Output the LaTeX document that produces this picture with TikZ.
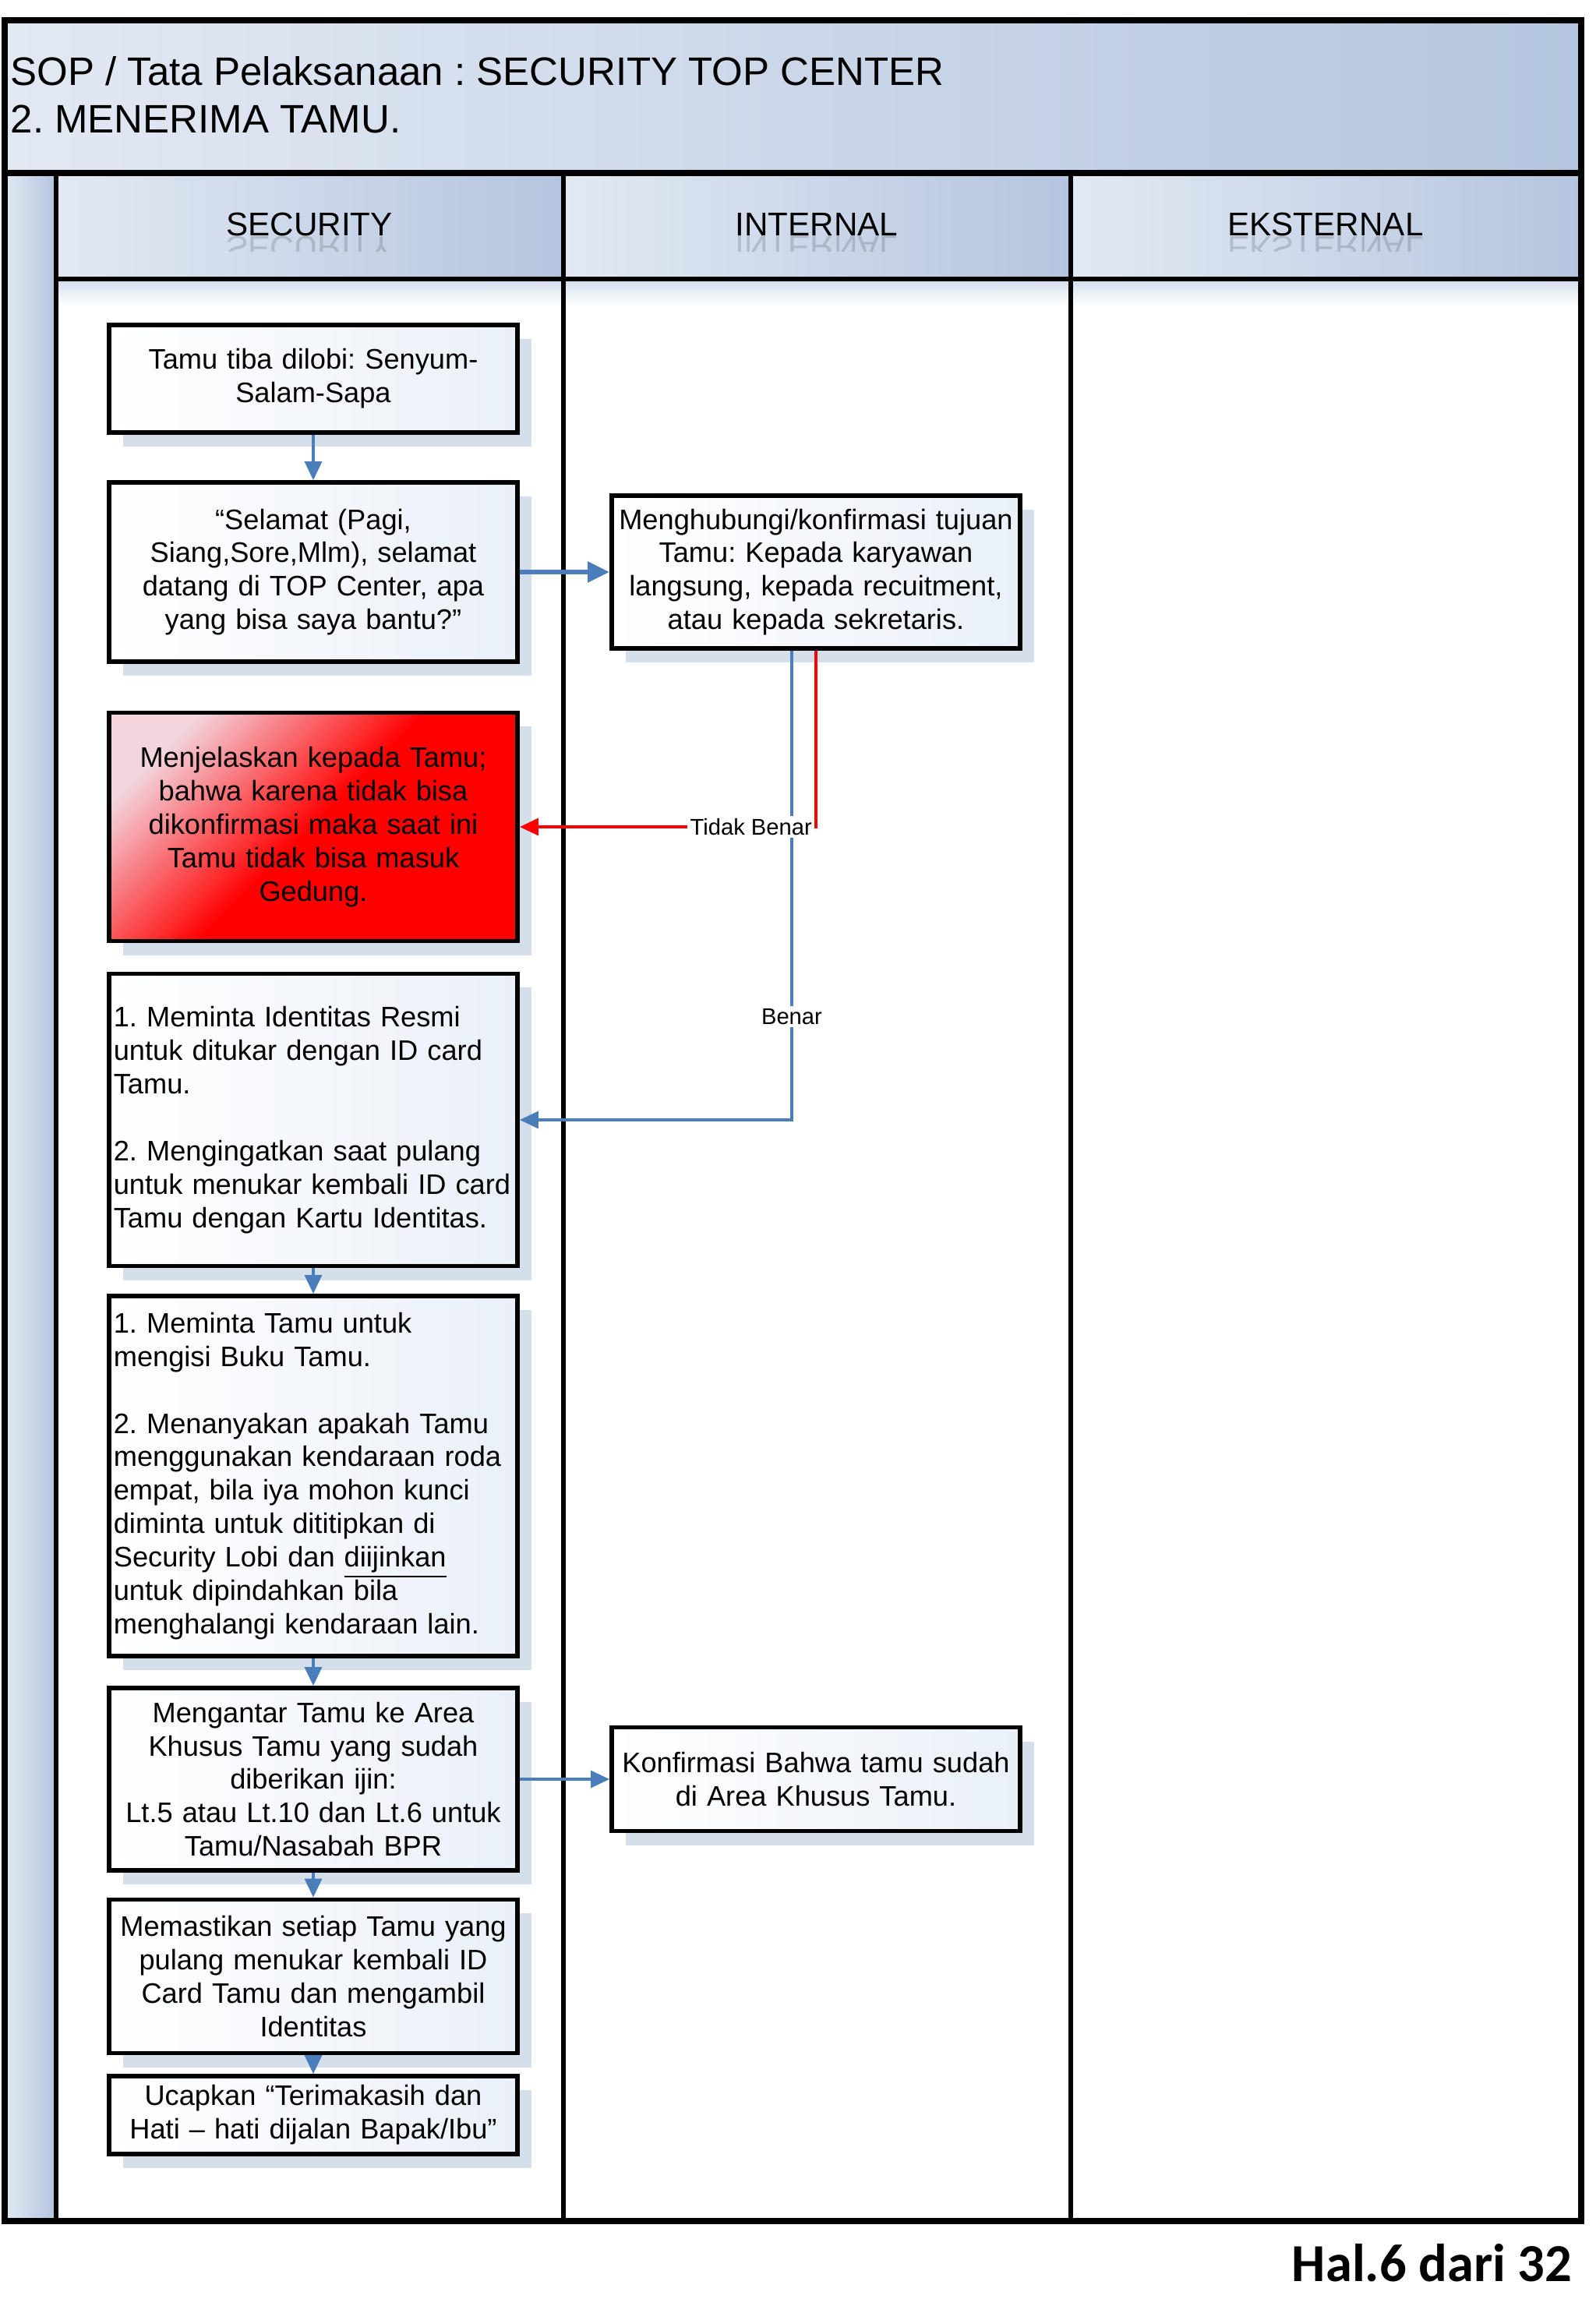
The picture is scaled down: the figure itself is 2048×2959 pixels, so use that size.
\documentclass[tikz,border=0pt]{standalone}
\usepackage{fontspec}
\setmainfont{Liberation Sans}
\newfontfamily\pagefont{Carlito}
\usetikzlibrary{arrows.meta,shadows}
\definecolor{hdrlight}{HTML}{E3E9F3}
\definecolor{hdrdark}{HTML}{B4C5DF}
\definecolor{shadowblue}{HTML}{D5DEEB}
\definecolor{boxblue}{HTML}{EAF0F8}
\definecolor{flowblue}{HTML}{4A7EBB}
\definecolor{redlight}{HTML}{F3D3DC}
\newcommand\flowfont{\fontsize{10.3}{12.2}\selectfont}
\frenchspacing
\begin{document}
\begin{tikzpicture}[x=0.01cm, y=-0.01cm,
  box/.style={draw, line width=1.6pt, minimum width=5.24cm, text width=5.08cm,
    inner xsep=0.08cm, inner ysep=0pt, align=center, font=\flowfont,
    left color=white, right color=boxblue,
    drop shadow={shadow xshift=0.18cm, shadow yshift=-0.18cm, fill=shadowblue, opacity=1}},
  boxl/.style={box, text width=5.12cm, inner xsep=0.06cm, align=left},
  redbox/.style={top color=redlight, bottom color=red, middle color=red, shading angle=45},
  flow/.style={draw=flowblue, line width=0.9pt, -{Triangle[length=0.24cm, width=0.22cm]}},
  lane/.style={font=\fontsize{12}{14}\selectfont},
  lbl/.style={font=\fontsize{8.3}{10}\selectfont, fill=white, inner sep=1pt}]
  \useasboundingbox[fill=white] (0,0) rectangle (2048,2959);
  % bands
  \shade[left color=hdrlight, right color=hdrdark] (6,26) rectangle (2029,222);
  \shade[left color=hdrlight, right color=hdrdark] (6,222) rectangle (72,2850);
  \foreach \a/\b in {72/723, 723/1374, 1374/2029}
    \shade[left color=hdrlight, right color=hdrdark] (\a,222) rectangle (\b,358);
  \shade[top color=hdrdark!60, bottom color=white] (72,358) rectangle (2029,392);
  % frame
  \draw[line width=2.3pt] (6,26) rectangle (2029,2850);
  \draw[line width=2.3pt] (6,222) -- (2029,222);
  \draw[line width=1.9pt] (72,358) -- (2029,358);
  \draw[line width=1.7pt] (72,222) -- (72,2850) (723,222) -- (723,2850) (1374,222) -- (1374,2850);
  \node[anchor=base west, inner sep=0, font=\fontsize{14.5}{17}\selectfont] (judul) at (13,109) {SOP / Tata Pelaksanaan : SECURITY TOP CENTER};
  \node[anchor=base west, inner sep=0, font=\fontsize{14.5}{17}\selectfont] (subjudul) at (13,170) {2. MENERIMA TAMU.};
  \node[lane, anchor=base] (security) at (397,302) {SECURITY};
  \node[lane, anchor=base] (internal) at (1048,302) {INTERNAL};
  \node[lane, anchor=base] (eksternal) at (1701,302) {EKSTERNAL};
  \begin{scope}
    \clip (72,302) rectangle (2029,322);
    \foreach \x/\t in {397/SECURITY, 1048/INTERNAL, 1701/EKSTERNAL}
      \node[lane, anchor=north, inner sep=0, opacity=.15] at (\x,302) {\scalebox{1}[-1]{\t}};
  \end{scope}
  % security lane
  \node[box, minimum height=1.38cm] (tiba) at (402,486) {Tamu tiba dilobi: Senyum-\\Salam-Sapa};
  \node[box, minimum height=2.30cm] (salam) at (402,734) {“Selamat (Pagi,\\Siang,Sore,Mlm), selamat\\datang di TOP Center, apa\\yang bisa saya bantu?"};
  \node[box, redbox, minimum height=2.93cm] (tolak) at (402,1061) {Menjelaskan kepada Tamu;\\bahwa karena tidak bisa\\dikonfirmasi maka saat ini\\Tamu tidak bisa masuk\\Gedung.};
  \node[boxl, minimum height=3.75cm] (identitas) at (402,1437) {1. Meminta Identitas Resmi\\untuk ditukar dengan ID card\\Tamu.\\[\baselineskip]2. Mengingatkan saat pulang\\untuk menukar kembali ID card\\Tamu dengan Kartu Identitas.};
  \node[boxl, minimum height=4.62cm] (bukutamu) at (402,1894) {1. Meminta Tamu untuk\\mengisi Buku Tamu.\\[\baselineskip]2. Menanyakan apakah Tamu\\menggunakan kendaraan roda\\empat, bila iya mohon kunci\\diminta untuk dititipkan di\\Security Lobi dan \underline{diijinkan}\\untuk dipindahkan bila\\menghalangi kendaraan lain.};
  \node[box, minimum height=2.34cm] (antar) at (402,2283) {Mengantar Tamu ke Area\\Khusus Tamu yang sudah\\diberikan ijin:\\Lt.5 atau Lt.10 dan Lt.6 untuk\\Tamu/Nasabah BPR};
  \node[box, minimum height=1.97cm] (pulang) at (402,2536) {Memastikan setiap Tamu yang\\pulang menukar kembali ID\\Card Tamu dan mengambil\\Identitas};
  \node[box, minimum height=1.00cm] (ucap) at (402,2714) {Ucapkan “Terimakasih dan\\Hati – hati dijalan Bapak/Ibu”};
  % internal lane
  \node[box, minimum height=1.96cm] (hubungi) at (1047,734) {Menghubungi/konfirmasi tujuan\\Tamu: Kepada karyawan\\langsung, kepada recuitment,\\atau kepada sekretaris.};
  \node[box, minimum height=1.33cm] (konfirmasi) at (1047,2283) {Konfirmasi Bahwa tamu sudah\\di Area Khusus Tamu.};
  % connectors
  \draw[flow] (tiba) -- (salam);
  \draw[flow, line width=1.5pt, -{Triangle[length=0.28cm, width=0.26cm]}] (salam) -- (hubungi);
  \draw[flow] ([xshift=-0.31cm]hubungi.south) |- node[lbl, pos=0.39] {Benar} (identitas);
  \draw[flow, draw=red] (hubungi.south) |- node[lbl, pos=0.5, anchor=east] {Tidak Benar} (tolak);
  \draw[flow] (identitas) -- (bukutamu);
  \draw[flow] (bukutamu) -- (antar);
  \draw[flow] (antar) -- (konfirmasi);
  \draw[flow] (antar) -- (pulang);
  \draw[flow] (pulang) -- (ucap);
  \node[anchor=base east, inner sep=0, font=\pagefont\bfseries\fontsize{19.5}{22}\selectfont] (hal) at (2018,2927) {Hal.6 dari 32};
\end{tikzpicture}
\end{document}
